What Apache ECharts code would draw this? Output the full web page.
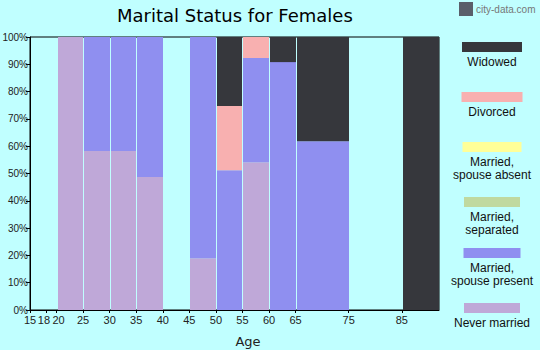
<!DOCTYPE html>
<html><head><meta charset="utf-8">
<script src="https://cdn.jsdelivr.net/npm/echarts@6/dist/echarts.min.js"></script>
<style>html,body{margin:0;padding:0;background:#c0ffff;}#c{width:540px;height:350px;}</style>
</head><body><div id="c"></div>
<script>
const ageStart = [20, 25, 30, 35, 45, 50, 55, 60, 65, 85];
const ageEnd   = [25, 30, 35, 40, 50, 55, 60, 65, 75, 92];
const xTicks = [15, 18, 20, 25, 30, 35, 40, 45, 50, 55, 60, 65, 75, 85];
const neverMarried     = [100, 58.2, 58.2, 48.7, 19.0, 0, 54.1, 0, 0, 0];
const marriedPresent   = [0, 41.8, 41.8, 51.3, 81.0, 51.2, 38.2, 90.8, 61.8, 0];
const marriedSeparated = [0, 0, 0, 0, 0, 0, 0, 0, 0, 0];
const marriedAbsent    = [0, 0, 0, 0, 0, 0, 0, 0, 0, 0];
const divorced         = [0, 0, 0, 0, 0, 23.5, 7.7, 0, 0, 0];
const widowed          = [0, 0, 0, 0, 0, 25.3, 0, 9.2, 38.2, 100];
const seriesNames = ['Never married', 'Married,\nspouse present', 'Married,\nseparated', 'Married,\nspouse absent', 'Divorced', 'Widowed'];
const seriesVals = [neverMarried, marriedPresent, marriedSeparated, marriedAbsent, divorced, widowed];
const colors = ['#bfa8d8', '#8f8ff0', '#c0d9a0', '#ffff99', '#f8b0b0', '#36373c'];

const cum = ageStart.map(() => 0);
const series = seriesVals.map((vals, si) => {
  const data = vals.map((v, i) => { const d = [ageStart[i], ageEnd[i], cum[i], v]; cum[i] += v; return d; });
  return {
    type: 'custom', name: seriesNames[si], coordinateSystem: 'cartesian2d',
    encode: { x: [0, 1], y: [2, 3] },
    data: data,
    renderItem: function (params, api) {
      const v = api.value(3);
      if (!v) return null;
      const p0 = api.coord([api.value(0), api.value(2) + v]);
      const p1 = api.coord([api.value(1), api.value(2)]);
      return { type: 'rect', shape: { x: Math.round(p0[0]) + 1, y: p0[1], width: Math.round(p1[0]) - Math.round(p0[0]) - 1, height: p1[1] - p0[1] }, style: { fill: colors[si] } };
    }
  };
});

// legend (top to bottom order)
const legendBoxes = [
  { y: 42, w: 60, lines: ['Widowed'], idx: 5 },
  { y: 92, w: 61, lines: ['Divorced'], idx: 4 },
  { y: 142, w: 59, lines: ['Married,', 'spouse absent'], idx: 3 },
  { y: 197, w: 56, lines: ['Married,', 'separated'], idx: 2 },
  { y: 248, w: 57, lines: ['Married,', 'spouse present'], idx: 1 },
  { y: 303, w: 56, lines: ['Never married'], idx: 0 }
];
const graphics = [];
legendBoxes.forEach(b => {
  graphics.push({ type: 'rect', x: 492 - b.w / 2, y: b.y, shape: { width: b.w, height: 10 }, style: { fill: colors[b.idx] } });
  graphics.push({ type: 'text', x: 492, y: b.y + 14, style: { text: b.lines.join('\n'), fill: '#111', font: '12px "Liberation Sans", Arial, sans-serif', textAlign: 'center', lineHeight: 12.5, textVerticalAlign: 'top' } });
});
graphics.push({ type: 'text', x: 117, y: 6, style: { text: 'Marital Status for Females', fill: '#000', font: '18px "DejaVu Sans", sans-serif' } });
graphics.push({ type: 'text', x: 248, y: 341, style: { text: 'Age', fill: '#222', font: '13px "DejaVu Sans", sans-serif', textAlign: 'center', textVerticalAlign: 'middle' } });
graphics.push({ type: 'rect', x: 459, y: 2, shape: { width: 14, height: 14 }, style: { fill: '#5a5f6a' } });
graphics.push({ type: 'text', x: 476, y: 4, style: { text: 'city-data.com', fill: '#777', font: '10px "Liberation Sans", Arial, sans-serif' } });

const chart = echarts.init(document.getElementById('c'), null, { renderer: 'svg' });
chart.setOption({
  backgroundColor: '#c0ffff',
  animation: false,
  grid: { left: 30, right: 101, top: 37, bottom: 40, outerBoundsMode: 'none', containLabel: false, show: true, borderColor: '#000', borderWidth: 1, backgroundColor: 'transparent' },
  xAxis: {
    type: 'value', min: 15, max: 92,
    axisLine: { lineStyle: { color: '#000', width: 1 } },
    axisTick: { show: true, length: 3, customValues: xTicks, lineStyle: { color: '#000' } },
    axisLabel: {
      customValues: xTicks, margin: 4, color: '#222', fontSize: 11, fontFamily: '"Liberation Sans", Arial, sans-serif', hideOverlap: false,
      formatter: function (v) { return v === 18 ? '{l|18}' : (v === 20 ? '{r|20}' : String(v)); },
      rich: {
        l: { fontSize: 11, color: '#222', padding: [0, 4, 0, 0] },
        r: { fontSize: 11, color: '#222', padding: [0, 0, 0, 4] }
      }
    },
    splitLine: { show: false }
  },
  yAxis: {
    type: 'value', min: 0, max: 100, interval: 10,
    axisLine: { show: true, lineStyle: { color: '#000', width: 1 } },
    axisTick: { show: true, length: 4, lineStyle: { color: '#000' } },
    axisLabel: { formatter: '{value}%', margin: 2, color: '#222', fontSize: 10, fontFamily: '"Liberation Sans", Arial, sans-serif' },
    splitLine: { show: false }
  },
  series: series,
  graphic: graphics
});
</script></body></html>
